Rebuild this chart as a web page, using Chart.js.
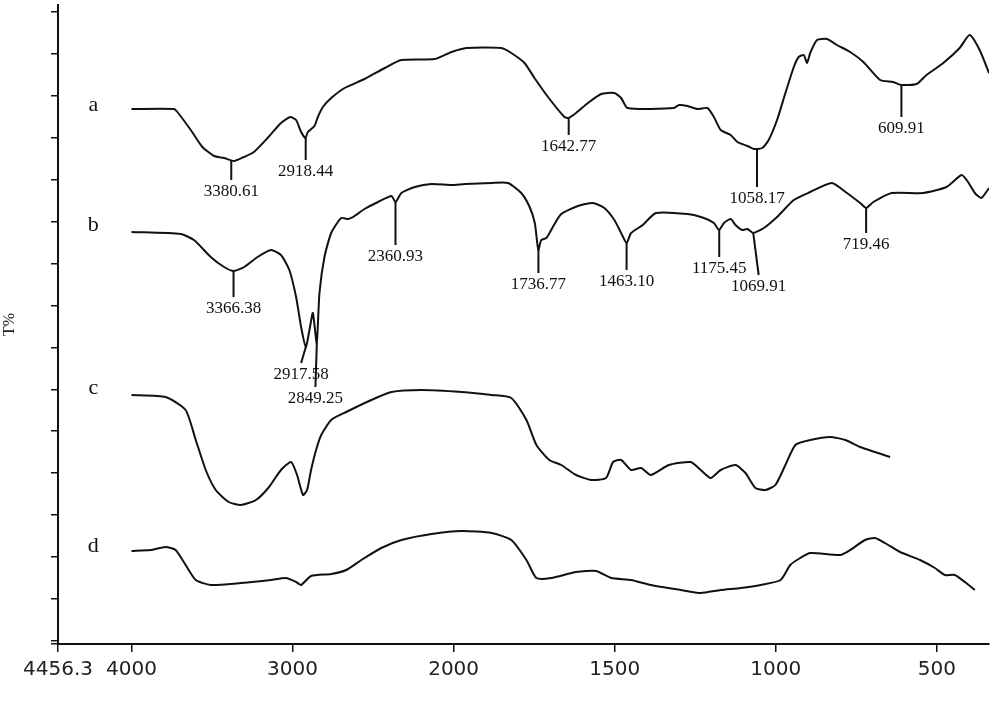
<!DOCTYPE html>
<html>
<head>
<meta charset="utf-8">
<script src="https://cdn.jsdelivr.net/npm/chart.js"></script>
<style>
  html, body { margin: 0; padding: 0; background: #fff; }
  #irChart { display: block; }
</style>
</head>
<body>
<canvas id="irChart" width="1008" height="708"></canvas>
<script>
// wavenumbers (cm-1) and transmittance (offset units)
const waveA = [4000, 3736, 3715, 3632, 3560, 3487, 3425, 3363, 3302, 3240, 3155, 3072, 3014, 2978, 2947, 2920, 2905, 2864, 2843, 2812,
    2760, 2677, 2553, 2428, 2324, 2117, 2013, 1960, 1852, 1821, 1780, 1749, 1707, 1656, 1643, 1620, 1583, 1542, 1501, 1480,
    1460, 1316, 1300, 1274, 1243, 1212, 1192, 1171, 1140, 1119, 1088, 1068, 1042, 1022, 996, 970, 944, 929, 913, 903,
    893, 872, 841, 810, 769, 728, 676, 635, 610, 563, 532, 480, 429, 398, 367, 338];
const transA = [535, 535, 532, 514, 497, 488, 486, 483, 487, 492, 506, 521, 527, 524, 512, 506, 512, 518, 527, 537,
    546, 556, 565, 576, 584, 585, 592, 596, 596, 591, 581, 566, 547, 527, 526, 531, 541, 550, 551, 546,
    536, 536, 539, 538, 535, 536, 527, 514, 509, 502, 498, 495, 496, 504, 524, 551, 577, 587, 589, 581,
    591, 604, 605, 599, 592, 582, 564, 562, 559, 560, 569, 581, 596, 609, 594, 571];

const waveB = [4000, 3695, 3612, 3508, 3425, 3366, 3300, 3217, 3134, 3072, 3020, 2978, 2947, 2918, 2895, 2874, 2850, 2833, 2802, 2760,
    2698, 2656, 2625, 2553, 2469, 2386, 2361, 2324, 2241, 2137, 2013, 1965, 1882, 1831, 1790, 1764, 1748, 1737, 1728, 1712,
    1692, 1666, 1614, 1568, 1532, 1501, 1480, 1463, 1449, 1413, 1372, 1274, 1223, 1192, 1176, 1161, 1140, 1125, 1104, 1088,
    1070, 1037, 996, 944, 893, 826, 779, 738, 719, 697, 640, 542, 470, 423, 403, 382, 362, 338];
const transB = [412, 410, 404, 387, 377, 373, 377, 387, 394, 389, 374, 347, 317, 297, 314, 331, 301, 351, 387, 411,
    426, 425, 427, 435, 442, 448, 442, 451, 457, 460, 459, 460, 461, 461, 451, 437, 421, 394, 404, 406,
    417, 430, 438, 441, 436, 424, 411, 401, 411, 419, 431, 430, 426, 421, 414, 421, 425, 419, 414, 415,
    411, 416, 427, 444, 452, 461, 451, 441, 436, 442, 451, 451, 457, 469, 462, 451, 446, 456];

const waveC = [4000, 3788, 3664, 3601, 3539, 3477, 3396, 3321, 3227, 3146, 3072, 3009, 2972, 2935, 2910, 2885, 2854, 2822, 2760, 2667,
    2511, 2386, 2200, 1975, 1882, 1821, 1774, 1743, 1703, 1666, 1620, 1573, 1527, 1505, 1480, 1449, 1418, 1388, 1332, 1264,
    1233, 1202, 1171, 1125, 1094, 1063, 1032, 1001, 970, 939, 893, 831, 784, 738, 692, 645];
const transC = [249, 247, 234, 204, 174, 154, 142, 139, 144, 157, 174, 182, 169, 149, 154, 174, 194, 209, 224, 232,
    244, 252, 254, 252, 249, 246, 224, 199, 184, 179, 169, 164, 166, 182, 184, 174, 176, 169, 179, 182,
    174, 166, 174, 179, 171, 156, 154, 159, 179, 199, 204, 207, 204, 197, 192, 187];

const waveD = [4000, 3882, 3788, 3726, 3664, 3601, 3508, 3321, 3134, 3041, 2978, 2947, 2885, 2760, 2667, 2573, 2449, 2324, 2137, 1975,
    1882, 1821, 1774, 1743, 1697, 1620, 1558, 1511, 1449, 1388, 1295, 1233, 1171, 1109, 1047, 985, 955, 924, 893, 800,
    769, 723, 692, 661, 614, 552, 506, 475, 444, 413, 382];
const transD = [93, 94, 97, 94, 79, 64, 59, 61, 64, 66, 62, 59, 68, 70, 74, 84, 96, 104, 110, 113,
    111, 104, 84, 66, 66, 72, 73, 66, 64, 59, 54, 51, 54, 56, 59, 64, 79, 86, 91, 89,
    94, 104, 106, 101, 92, 84, 76, 69, 69, 62, 54];

// peak labels: wavenumber, where the marker starts (on the curve) and ends
const peakWaveA = [3380.61, 2918.44, 1642.77, 1058.17, 609.91];
const peakTopA = [484, 506, 527, 495, 559];
const peakEndA = [464, 484, 509, 457, 527];
const peakFootA = [3380.61, 2918.44, 1642.77, 1058.17, 609.91];

const peakWaveB = [3366.38, 2917.58, 2849.25, 2360.93, 1736.77, 1463.10, 1175.45, 1069.91, 719.46];
const peakTopB = [373, 297, 301, 442, 394, 401, 414, 411, 436];
const peakEndB = [347, 281, 257, 399, 371, 374, 387, 369, 411];
const peakFootB = [3366.38, 2947, 2858, 2360.93, 1736.77, 1463.10, 1175.45, 1053, 719.46];

const seriesNames = ['a', 'b', 'c', 'd'];
const seriesNameY = [539, 419, 256, 98];
const seriesNameX = 4237;

const xTicks = [4456.3, 4000, 3000, 2000, 1500, 1000, 500];
const yTicks = [0, 3, 45, 87, 129, 171, 213, 254, 296, 338, 380, 422, 464, 506, 548, 590, 632];
const xMin = 338, xMax = 4456.3, scaleBreak = 2000;
const yMin = 0, yMax = 639;

// spectrometer style axis: below 2000 cm-1 the scale is stretched x2
class FtirScale extends Chart.LinearScale {
    warp(v) {
        return v <= scaleBreak ? v * 2 : scaleBreak * 2 + (v - scaleBreak);
    }
    unwarp(u) {
        return u <= scaleBreak * 2 ? u / 2 : u - scaleBreak;
    }
    getPixelForValue(value) {
        if (value === null || value === undefined) return NaN;
        const a = this.warp(this.min), b = this.warp(this.max);
        return this.getPixelForDecimal((this.warp(value) - a) / (b - a));
    }
    getValueForPixel(pixel) {
        const a = this.warp(this.min), b = this.warp(this.max);
        return this.unwarp(a + this.getDecimalForPixel(pixel) * (b - a));
    }
}
FtirScale.id = 'ftir';
Chart.register(FtirScale);

function series(waves, trans) {
    return {
        data: waves.map((w, i) => ({ x: w, y: trans[i] })),
        borderColor: '#111',
        borderWidth: 2,
        pointRadius: 0,
        tension: 0.2,
        fill: false
    };
}

const peakSets = [
    { wave: peakWaveA, top: peakTopA, end: peakEndA, foot: peakFootA },
    { wave: peakWaveB, top: peakTopB, end: peakEndB, foot: peakFootB }
];

const peakMarks = {
    id: 'peakMarks',
    afterDatasetsDraw(chart) {
        const ctx = chart.ctx;
        const x = chart.scales.x, y = chart.scales.y;
        ctx.save();
        ctx.strokeStyle = '#111';
        ctx.fillStyle = '#111';
        ctx.lineWidth = 2;
        ctx.textAlign = 'center';
        ctx.textBaseline = 'top';
        ctx.font = '17px "Liberation Serif", "Times New Roman", serif';
        peakSets.forEach(set => {
            set.wave.forEach((w, i) => {
                const x0 = x.getPixelForValue(w), y0 = y.getPixelForValue(set.top[i]);
                const x1 = x.getPixelForValue(set.foot[i]), y1 = y.getPixelForValue(set.end[i]);
                ctx.beginPath();
                ctx.moveTo(x0, y0);
                ctx.lineTo(x1, y1);
                ctx.stroke();
                ctx.fillText(w.toFixed(2), x1, y1 + 3);
            });
        });
        // a, b, c, d
        ctx.font = '22px "Liberation Serif", "Times New Roman", serif';
        ctx.textBaseline = 'middle';
        seriesNames.forEach((name, i) => {
            ctx.fillText(name, x.getPixelForValue(seriesNameX), y.getPixelForValue(seriesNameY[i]));
        });
        ctx.restore();
    }
};

const ctx = document.getElementById('irChart');

new Chart(ctx, {
    type: 'line',
    data: {
        datasets: [
            series(waveA, transA),
            series(waveB, transB),
            series(waveC, transC),
            series(waveD, transD)
        ]
    },
    options: {
        responsive: false,
        animation: false,
        devicePixelRatio: 1,
        layout: { padding: { top: 5, right: 19, left: 0, bottom: 0 } },
        plugins: {
            legend: { display: false },
            tooltip: { enabled: false }
        },
        scales: {
            x: {
                type: 'ftir',
                position: 'bottom',
                reverse: true,
                bounds: 'data',
                min: xMin,
                max: xMax,
                border: { display: true, color: '#111', width: 2 },
                grid: { display: true, drawOnChartArea: false, drawTicks: true, tickLength: 8, color: '#111', lineWidth: 1.5 },
                ticks: {
                    autoSkip: false,
                    maxRotation: 0,
                    padding: 6,
                    color: '#222',
                    font: { family: '"DejaVu Sans", Verdana, sans-serif', size: 20 },
                    callback: v => String(v)
                },
                afterBuildTicks: s => { s.ticks = xTicks.map(v => ({ value: v })); },
                afterFit: s => { s.height = 64; }
            },
            y: {
                type: 'linear',
                bounds: 'data',
                min: yMin,
                max: yMax,
                border: { display: true, color: '#111', width: 2 },
                grid: { display: true, drawOnChartArea: false, drawTicks: true, tickLength: 7, color: '#111', lineWidth: 1.5 },
                ticks: { display: false },
                title: {
                    display: true,
                    text: 'T%',
                    color: '#222',
                    padding: 0,
                    font: { family: '"Liberation Serif", serif', size: 16 }
                },
                afterBuildTicks: s => { s.ticks = yTicks.map(v => ({ value: v })); },
                afterFit: s => { s.width = 58; }
            }
        }
    },
    plugins: [peakMarks]
});
</script>
</body>
</html>
